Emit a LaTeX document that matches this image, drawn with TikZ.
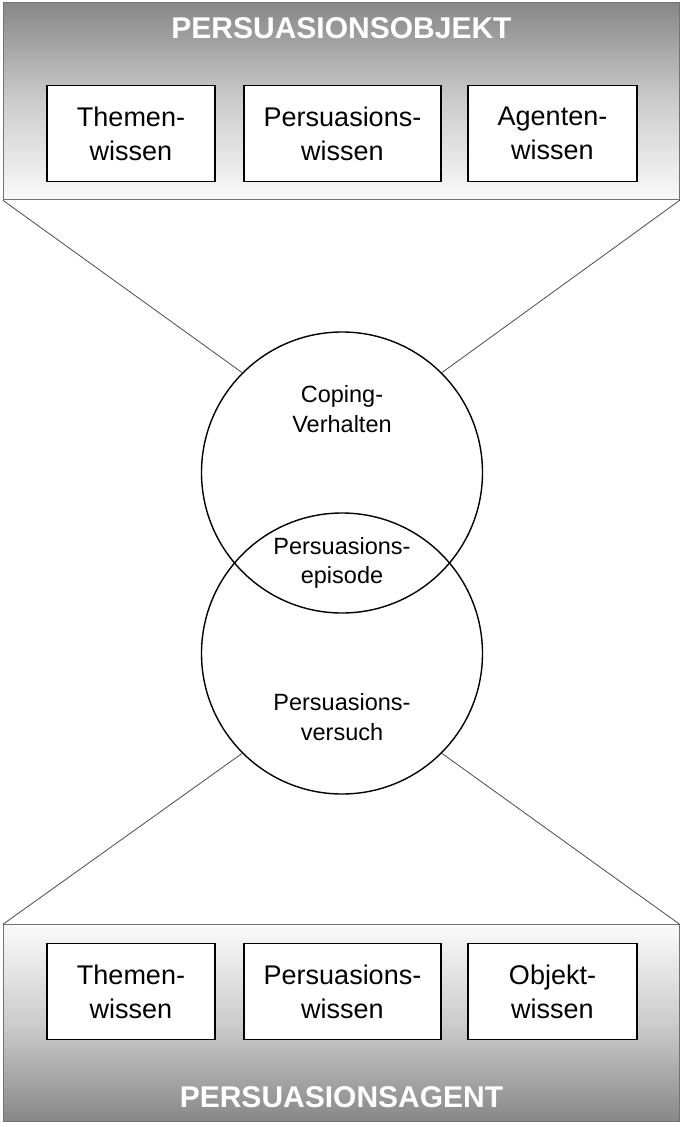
\documentclass[tikz,border=0pt]{standalone}
\usepackage{fontspec}
\setmainfont{Liberation Sans}
\begin{document}
\begin{tikzpicture}[x=1pt,y=-1pt,
  panel/.style={draw=black!55, line width=0.9pt, minimum width=676pt, minimum height=197pt, inner sep=0pt},
  toppanel/.style={panel, top color=black!47, bottom color=black!2, middle color=black!20},
  botpanel/.style={panel, top color=black!2, bottom color=black!47, middle color=black!20},
  title/.style={text=white, font=\bfseries\fontsize{30}{36}\selectfont},
  kbox/.style={draw=black, line width=1.1pt, fill=white, minimum height=96pt, inner sep=0pt, align=center, font=\fontsize{27}{34}\selectfont},
  ring/.style={draw=black, line width=1.4pt, circle, minimum size=281pt, inner sep=0pt},
  ctext/.style={align=center, font=\fontsize{23.5}{29.5}\selectfont},
  link/.style={draw=black!70, line width=0.8pt}
]
\fill[white] (0,0) rectangle (685,1127);
\useasboundingbox (0,0) rectangle (685,1127);

% panels
\node[toppanel] (top) at (341.3,101.3) {};
\node[botpanel] (bot) at (341.3,1023.3) {};
\node[title] (ttitle) at (341.5,28) {PERSUASIONSOBJEKT};
\node[title] (btitle) at (341.5,1097) {PERSUASIONSAGENT};

% top boxes
\node[kbox, minimum width=168pt] (t1) at (131,133.7) {Themen-\\wissen};
\node[kbox, minimum width=197pt] (t2) at (342.5,133.7) {Persuasions-\\wissen};
\node[kbox, minimum width=169pt] (t3) at (552.5,133.7) {Agenten-\\wissen};

% bottom boxes
\node[kbox, minimum width=168pt] (b1) at (131,991.8) {Themen-\\wissen};
\node[kbox, minimum width=197pt] (b2) at (342.5,991.8) {Persuasions-\\wissen};
\node[kbox, minimum width=169pt] (b3) at (552.5,991.8) {Objekt-\\wissen};

% circles
\node[ring] (c1) at (342,472.5) {};
\node[ring] (c2) at (342,653.5) {};
\node[ctext] (ct1) at (342,409) {Coping-\\Verhalten};
\node[ctext] (ct2) at (342,563) {Persuasions-\\episode};
\node[ctext] (ct3) at (342,717) {Persuasions-\\versuch};

% connectors
\draw[link] (top.south west) -- (c1.135);
\draw[link] (top.south east) -- (c1.45);
\draw[link] (bot.north west) -- (c2.-135);
\draw[link] (bot.north east) -- (c2.-45);
\end{tikzpicture}
\end{document}
